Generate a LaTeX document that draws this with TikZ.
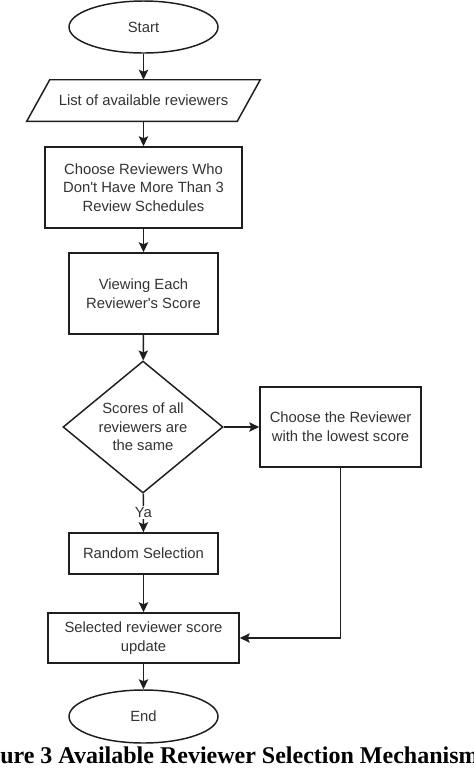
\documentclass[tikz,border=0pt]{standalone}
\usepackage{fontspec}
\setmainfont{Liberation Sans}
\newfontfamily\captionfont{Liberation Serif}
\usetikzlibrary{shapes.geometric,arrows.meta}
\definecolor{txt}{RGB}{51, 51, 51}
\definecolor{edge}{RGB}{30, 30, 30}
\definecolor{white}{RGB}{255, 255, 255}

\begin{document}
\begin{tikzpicture}[
        x=0.75pt, y=-0.75pt,
        every node/.style={
            font=\fontsize{11.1pt}{14pt}\selectfont,
            text=txt,
            align=center
        },
        terminal/.style={ellipse, draw=edge, line width=1.1pt,
            minimum width=111.75pt, minimum height=39pt, inner sep=0pt},
        process/.style={rectangle, draw=edge, line width=1.1pt, inner sep=0pt},
        decision/.style={diamond, draw=edge, line width=1.1pt, aspect=1.21,
            minimum width=120pt, minimum height=99pt, inner sep=0pt},
        flow/.style={draw=edge, line width=1.1pt,
            -{Stealth[length=7.5pt, width=7pt, inset=1.5pt]}}
    ]

    \clip (0,0) rectangle (474,769);
    \fill[white] (0,0) rectangle (474,769);

    % main column
    \node[terminal] (start) at (143.5,27) {Start};
    \node[inner sep=0pt, minimum width=157.5pt, minimum height=30.75pt] (list) at (143.5,100.5) {List of available reviewers};
    \draw[edge, line width=1.1pt]
        ([xshift=8.625pt]list.north west) -- ([xshift=8.625pt]list.north east) --
        ([xshift=-8.625pt]list.south east) -- ([xshift=-8.625pt]list.south west) -- cycle;
    \node[process, minimum width=147.75pt, minimum height=60.75pt] (choose) at (143.5,187.5)
        {Choose Reviewers Who\\Don\textquotesingle t Have More Than 3\\Review Schedules};
    \node[process, minimum width=111.75pt, minimum height=60.75pt] (view) at (143.5,293.5)
        {Viewing Each\\Reviewer\textquotesingle s Score};
    \node[decision] (same) at (143,427) {Scores of all\\reviewers are\\the same};
    \node[process, minimum width=111.75pt, minimum height=30.75pt] (random) at (143.5,553.5) {Random Selection};
    \node[process, minimum width=143.25pt, minimum height=37.5pt] (update) at (143.5,638)
        {Selected reviewer score\\update};
    \node[terminal, minimum height=39.75pt] (end) at (143.5,716.5) {End};

    % side branch
    \node[process, minimum width=120.75pt, minimum height=60pt] (lowest) at (340.5,427)
        {Choose the Reviewer\\with the lowest score};

    % connectors
    \draw[flow] (start) -- (list);
    \draw[flow] (list) -- (choose);
    \draw[flow] (choose) -- (view);
    \draw[flow] (view) -- (same);
    \draw[flow] (same) -- (lowest);
    \draw[flow] (same) -- node[fill=white, inner sep=1pt] {Ya} (random);
    \draw[flow] (random) -- (update);
    \draw[flow] (lowest.south) |- (update.east);
    \draw[flow] (update) -- (end);

    \node[anchor=base west, inner sep=0pt, text=black,
        font=\captionfont\bfseries\fontsize{18pt}{20pt}\selectfont] (caption) at (0,763)
        {ure 3 Available Reviewer Selection Mechanism};

\end{tikzpicture}
\end{document}
